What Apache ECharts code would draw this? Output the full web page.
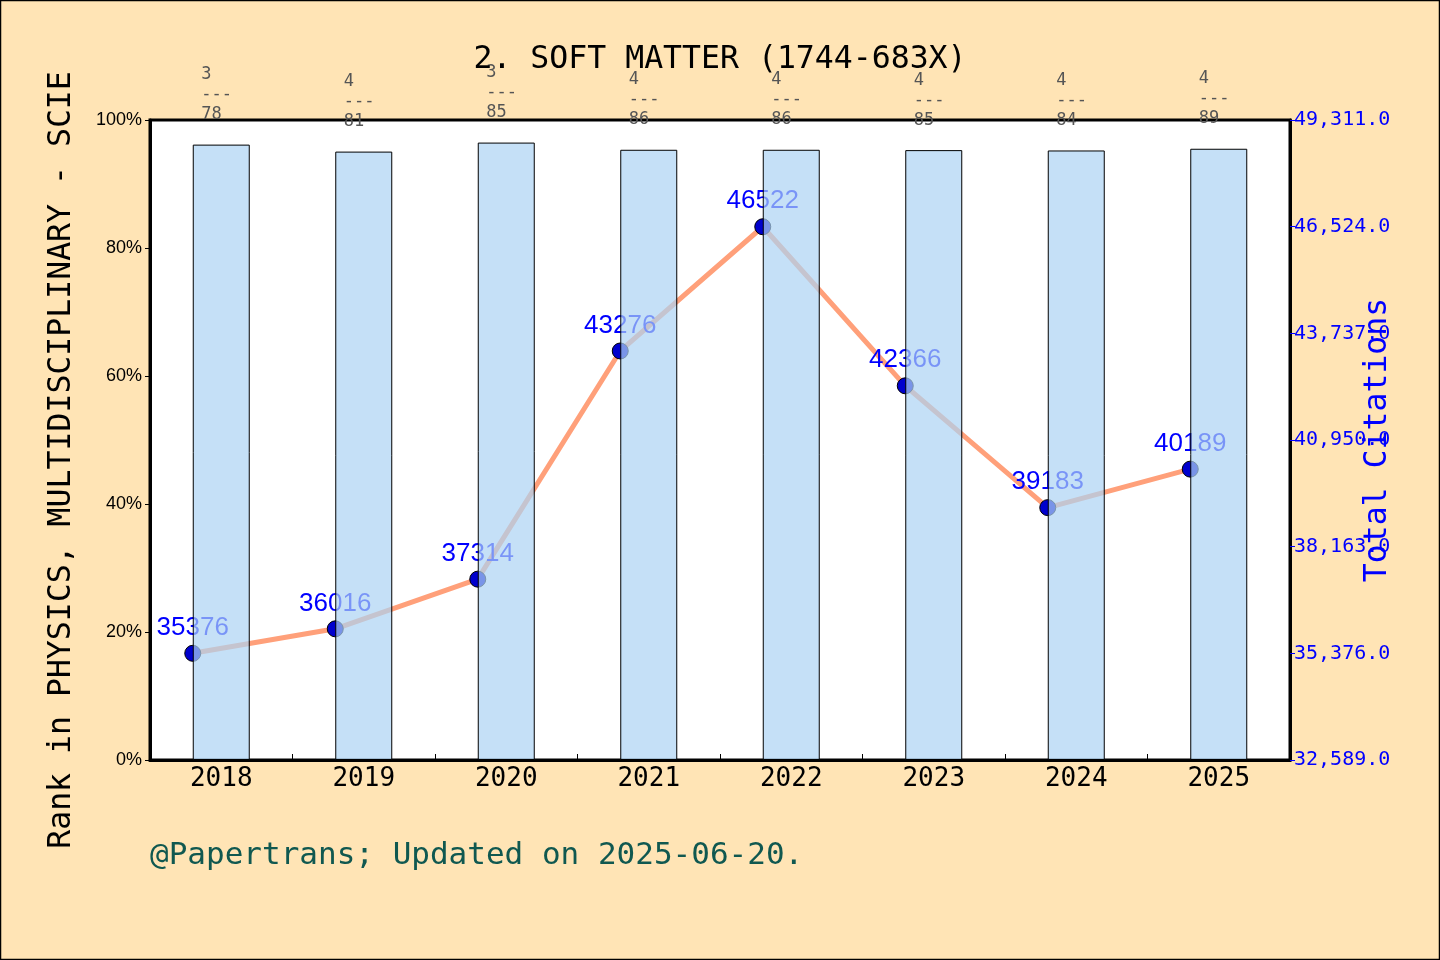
<!DOCTYPE html>
<html>
<head>
<meta charset="utf-8">
<title>SOFT MATTER</title>
<script src="https://cdn.jsdelivr.net/npm/echarts@6/dist/echarts.min.js"></script>
<style>
	html, body { margin: 0; padding: 0; background: #FFE4B5; }
	#main { width: 1440px; height: 960px; }
</style>
</head>
<body>
<div id="main"></div>
<script>
	// data
	var years = ['2018', '2019', '2020', '2021', '2022', '2023', '2024', '2025'];
	var ranks = [3, 4, 3, 4, 4, 4, 4, 4];
	var totals = [78, 81, 85, 86, 86, 85, 84, 89];
	var citations = [35376, 36016, 37314, 43276, 46522, 42366, 39183, 40189];
	var citeMin = 32589, citeMax = 49311, citeStep = 2787;

	var mono = '"DejaVu Sans Mono", "Liberation Mono", monospace';

	var barData = ranks.map(function (r, i) {
		return { value: (1 - r / totals[i]) * 100, rank: r, total: totals[i] };
	});
	// line points sit on the left edge of each bar
	var lineData = citations.map(function (v, i) { return [i - 0.2, v]; });

	var chart = echarts.init(document.getElementById('main'), null, { renderer: 'canvas' });
	chart.setOption({
		backgroundColor: '#FFE4B5',
		animation: false,
		title: {
			text: '2. SOFT MATTER (1744-683X)',
			left: 'center', top: 39,
			textStyle: { fontFamily: mono, fontSize: 31.5, fontWeight: 'normal', color: '#000' }
		},
		grid: {
			left: 150, right: 150, top: 120, bottom: 200,
			show: true, backgroundColor: '#fff', borderColor: '#000', borderWidth: 3
		},
		xAxis: [{
			type: 'category',
			data: years,
			axisLine: { lineStyle: { color: '#000', width: 3 } },
			axisTick: { show: true, inside: true, length: 6, lineStyle: { color: '#000' } },
			axisLabel: { fontFamily: mono, fontSize: 26, color: '#000', margin: 6 }
		}, {
			type: 'value', min: -0.5, max: 7.5, show: false
		}],
		yAxis: [{
			type: 'value', min: 0, max: 100, interval: 20,
			name: 'Rank in PHYSICS, MULTIDISCIPLINARY - SCIE',
			nameLocation: 'middle', nameGap: 72, nameRotate: 90, nameMoveOverlap: false,
			nameTextStyle: { fontFamily: mono, fontSize: 31.5, color: '#000', padding: [0, 40, 0, 0] },
			splitLine: { show: false },
			axisLine: { show: true, onZero: false, lineStyle: { color: '#000', width: 3 } },
			axisTick: { show: true, length: 5, lineStyle: { color: '#000' } },
			axisLabel: { formatter: '{value}%', fontFamily: '"Liberation Sans", Arial, sans-serif', fontSize: 18, color: '#000', margin: 8 }
		}, {
			type: 'value', min: citeMin, max: citeMax, interval: citeStep,
			position: 'right',
			name: 'Total Citations',
			nameLocation: 'middle', nameGap: 72, nameRotate: 90, nameMoveOverlap: false,
			nameTextStyle: { fontFamily: mono, fontSize: 31.5, color: '#0000FF' },
			splitLine: { show: false },
			axisLine: { show: true, onZero: false, lineStyle: { color: '#000', width: 3 } },
			axisTick: { show: true, length: 5, lineStyle: { color: '#0000FF' } },
			axisLabel: {
				fontFamily: mono, fontSize: 20, color: '#0000FF', margin: 4,
				formatter: function (v) {
					return v.toLocaleString('en-US', { minimumFractionDigits: 1, maximumFractionDigits: 1 });
				}
			}
		}],
		series: [{
			name: 'Total Citations',
			type: 'line',
			xAxisIndex: 1, yAxisIndex: 1,
			data: lineData,
			z: 2,
			lineStyle: { color: '#FFA07A', width: 5 },
			symbol: 'circle', symbolSize: 16,
			itemStyle: { color: '#0000CD', borderColor: '#000', borderWidth: 1 },
			label: {
				show: true, position: 'top', distance: 4,
				fontFamily: '"Liberation Sans", Arial, sans-serif', fontSize: 26, color: '#0000FF',
				formatter: function (p) { return p.value[1]; }
			}
		}, {
			name: 'Rank',
			type: 'bar',
			xAxisIndex: 0, yAxisIndex: 0,
			data: barData,
			barWidth: '40%',
			z: 3,
			itemStyle: { color: 'rgba(172,211,244,0.7)', borderColor: '#000', borderWidth: 1 },
			label: {
				show: true, position: 'top', distance: 20,
				align: 'left', offset: [-20, 0],
				fontFamily: mono, fontSize: 17, lineHeight: 20, color: '#555',
				formatter: function (p) { return p.data.rank + '\n---\n' + p.data.total; }
			}
		}],
		graphic: [{
			type: 'text', left: 150, top: 840, z: 10,
			style: { text: '@Papertrans; Updated on 2025-06-20.', fontFamily: mono, fontSize: 31, fill: '#105850' }
		}, {
			type: 'rect', z: 100, silent: true,
			shape: { x: 0.5, y: 0.5, width: 1439, height: 959 },
			style: { fill: null, stroke: '#000', lineWidth: 1.5 }
		}]
	});
	window.onresize = chart.resize;
</script>
</body>
</html>
